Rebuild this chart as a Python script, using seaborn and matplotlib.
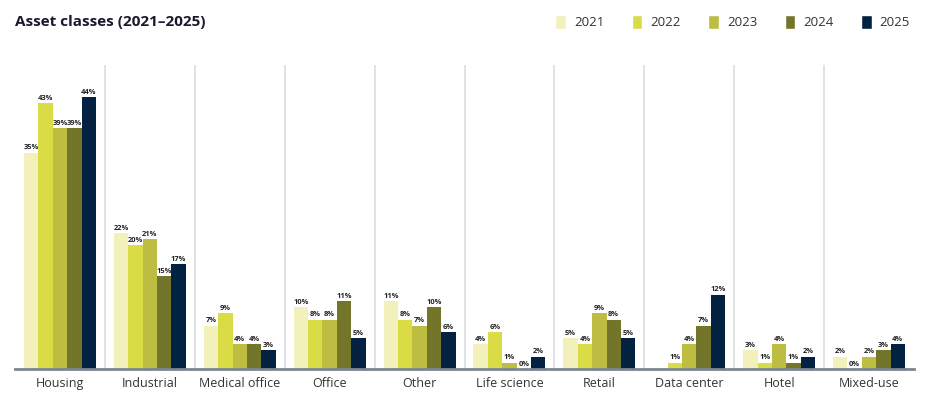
import numpy as np
import pandas as pd
import matplotlib
matplotlib.use("Agg")
import matplotlib.pyplot as plt
import seaborn as sns
from matplotlib.patches import Patch

categories = ["Housing", "Industrial", "Medical office", "Office", "Other",
              "Life science", "Retail", "Data center", "Hotel", "Mixed-use"]
years = ["2021", "2022", "2023", "2024", "2025"]
v2021 = [35, 22, 7, 10, 11, 4, 5, np.nan, 3, 2]
v2022 = [43, 20, 9, 8, 8, 6, 4, 1, 1, 0]
v2023 = [39, 21, 4, 8, 7, 1, 9, 4, 4, 2]
v2024 = [39, 15, 4, 11, 10, 0, 8, 7, 1, 3]
v2025 = [44, 17, 3, 5, 6, 2, 5, 12, 2, 4]
colors = ["#F2F1BC", "#DADC45", "#BDBD42", "#73752A", "#032241"]

rows = []
for y, vals in zip(years, [v2021, v2022, v2023, v2024, v2025]):
    for c, v in zip(categories, vals):
        rows.append({"cat": c, "year": y, "val": v})
df = pd.DataFrame(rows)

sns.set_style("white")
plt.rcParams["font.family"] = ["Open Sans", "DejaVu Sans"]

fig = plt.figure(figsize=(9.48, 4.2), dpi=100)
ax = fig.add_axes([15/948, 51/420, 899/948, 304/420])

sns.barplot(data=df, x="cat", y="val", hue="year", palette=colors,
            order=categories, hue_order=years, width=0.8, ax=ax,
            legend=False, saturation=1, linewidth=0)

for cont in ax.containers:
    ax.bar_label(cont, fmt="{:.0f}%", padding=1, fontsize=5.4,
                 fontweight="bold", color="#222222")

# group dividers
for i in range(len(categories) - 1):
    ax.axvline(i + 0.5, color="#DADDE1", lw=1.2, zorder=0)

ax.set_xlim(-0.5, len(categories) - 0.5)
ax.set_ylim(0, 49.2)
ax.set_yticks([])
ax.set_xlabel("")
ax.set_ylabel("")
for s in ["top", "right", "left"]:
    ax.spines[s].set_visible(False)
ax.spines["bottom"].set_color("#7A8691")
ax.spines["bottom"].set_linewidth(2)
ax.tick_params(axis="x", length=0, pad=6, labelsize=9, labelcolor="#333333")

fig.text(15/948, 1 - 22/420, "Asset classes (2021\u20132025)", fontsize=11,
         fontweight="bold", color="#1A1A2E", va="center", ha="left")

handles = [Patch(facecolor=c, label=y) for c, y in zip(colors, years)]
fig.legend(handles=handles, loc="center right", ncol=5, frameon=False,
           bbox_to_anchor=(922/948, 1 - 22/420), fontsize=9.5,
           handlelength=0.8, handleheight=1.3, handletextpad=0.6,
           columnspacing=2.1, labelcolor="#333333")

fig.savefig("out.png", dpi=100, facecolor="white")
